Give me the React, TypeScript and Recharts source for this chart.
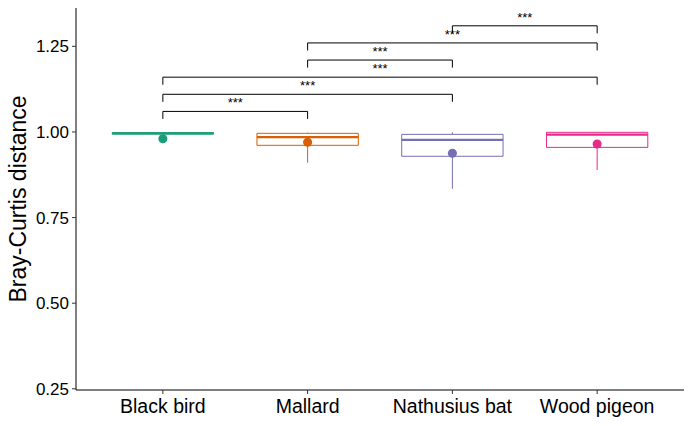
import React from "react"
import {
  ComposedChart,
  XAxis,
  YAxis,
  Scatter,
  Cell,
  ReferenceArea,
  ReferenceLine,
  ReferenceDot,
} from "recharts"

const groups = ["Black bird", "Mallard", "Nathusius bat", "Wood pigeon"]
const colors = ["#1b9e77", "#d95f02", "#7570b3", "#e7298a"]

// box stats
const lowWhisker = [0.994, 0.91, 0.834, 0.889]
const q1 = [0.994, 0.961, 0.929, 0.955]
const median = [0.996, 0.985, 0.977, 0.992]
const q3 = [0.998, 0.996, 0.993, 0.999]
const highWhisker = [0.998, 0.998, 0.999, 0.999]
const means = [0.98, 0.97, 0.938, 0.965]

// pairwise comparisons (group index pairs), bracket heights and labels
const pairFrom = [0, 0, 0, 1, 1, 2]
const pairTo = [1, 2, 3, 2, 3, 3]
const bracketY = [1.06, 1.11, 1.16, 1.21, 1.26, 1.31]
const signif = ["***", "***", "***", "***", "***", "***"]

const yTicks = [0.25, 0.5, 0.75, 1.0, 1.25]

const meanData = groups.map((g, i) => ({ x: i + 1, mean: means[i], name: g }))

const HALF = 0.35
const TIP = 0.022
const font = "'Liberation Sans', Arial, sans-serif"

export default function App() {
  return (
    <div style={{ position: "absolute", left: 0, top: 0, background: "#fff" }}>
      <ComposedChart
        width={690}
        height={426}
        data={meanData}
        margin={{ top: 8, right: 6, bottom: 0, left: 0 }}
        style={{ fontFamily: font }}
      >
        <XAxis
          type="number"
          dataKey="x"
          domain={[0.4, 4.6]}
          ticks={[1, 2, 3, 4]}
          tickFormatter={(v) => groups[v - 1]}
          allowDataOverflow
          height={36}
          tickSize={4}
          tickMargin={5}
          axisLine={{ stroke: "#000" }}
          tickLine={{ stroke: "#333" }}
          tick={{ fill: "#000", fontSize: 19.5 }}
        />
        <YAxis
          type="number"
          domain={[0.2465, 1.362]}
          ticks={yTicks}
          allowDataOverflow
          width={76}
          tickSize={4}
          tickMargin={3}
          tickFormatter={(v) => v.toFixed(2)}
          axisLine={{ stroke: "#000" }}
          tickLine={{ stroke: "#333" }}
          tick={{ fill: "#000", fontSize: 17 }}
          label={{ value: "Bray-Curtis distance", angle: -90, position: "center", dx: -20, fontSize: 23, fill: "#000" }}
        />

        {groups.map((g, i) => {
          const x = i + 1
          return (
            <React.Fragment key={g}>
              <ReferenceLine
                segment={[{ x, y: q3[i] }, { x, y: highWhisker[i] }]}
                stroke={colors[i]}
                strokeWidth={1}
              />
              <ReferenceLine
                segment={[{ x, y: lowWhisker[i] }, { x, y: q1[i] }]}
                stroke={colors[i]}
                strokeWidth={1}
              />
              <ReferenceArea
                x1={x - HALF}
                x2={x + HALF}
                y1={q1[i]}
                y2={q3[i]}
                fill="#fff"
                fillOpacity={1}
                stroke={colors[i]}
                strokeWidth={1}
              />
              <ReferenceLine
                segment={[{ x: x - HALF, y: median[i] }, { x: x + HALF, y: median[i] }]}
                stroke={colors[i]}
                strokeWidth={2.2}
              />
            </React.Fragment>
          )
        })}

        {bracketY.map((y, k) => {
          const a = pairFrom[k] + 1
          const b = pairTo[k] + 1
          return (
            <React.Fragment key={"br" + k}>
              <ReferenceLine segment={[{ x: a, y }, { x: b, y }]} stroke="#000" strokeWidth={1} />
              <ReferenceLine segment={[{ x: a, y }, { x: a, y: y - TIP }]} stroke="#000" strokeWidth={1} />
              <ReferenceLine segment={[{ x: b, y }, { x: b, y: y - TIP }]} stroke="#000" strokeWidth={1} />
              <ReferenceDot
                x={(a + b) / 2}
                y={y}
                r={0}
                fill="none"
                stroke="none"
                label={{ value: signif[k], position: "top", offset: 4, fontSize: 13, fill: "#000" }}
              />
            </React.Fragment>
          )
        })}

        <Scatter dataKey="mean" isAnimationActive={false}>
          {meanData.map((d, i) => (
            <Cell key={d.name} fill={colors[i]} />
          ))}
        </Scatter>
      </ComposedChart>
    </div>
  )
}
